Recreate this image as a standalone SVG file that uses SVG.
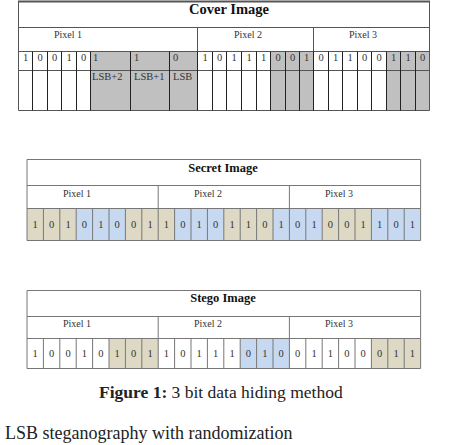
<svg xmlns="http://www.w3.org/2000/svg" width="474" height="445" viewBox="0 0 474 445">
<style>
text{font-family:"Liberation Serif","Times New Roman",serif;fill:#222}
.t{font-size:13px;font-weight:bold;text-anchor:middle;fill:#111}
.p{font-size:10px;text-anchor:middle;fill:#333}
.d{font-size:10.5px;text-anchor:middle;fill:#333}
.s{font-size:10.5px;fill:#333}
.ln{stroke:#555;stroke-width:1;fill:none}
.lv{stroke:#222;stroke-width:1;fill:none}
.lg{stroke:#777;stroke-width:1;fill:none}
.gray{fill:#c0c0c0}
.tan{fill:#ddd9c4}
.blue{fill:#c6d9f1}
.cap{font-size:17.5px}
</style>
<rect width="474" height="445" fill="#fff"/>

<g id="cover-image">
  <rect class="gray" x="90.5" y="51.5" width="107" height="59"/>
  <rect class="gray" x="270.5" y="51.5" width="43" height="59"/>
  <rect class="gray" x="386.5" y="51.5" width="43" height="59"/>
  <line x1="18" y1="1.5" x2="430" y2="1.5" stroke="#555" stroke-width="2"/>
  <path class="ln" d="M18.5 1.5V110.5M429.5 1.5V110.5M18.5 27.5H429.5M18.5 51.5H429.5M18.5 70.5H429.5M18.5 110.5H429.5"/>
  <path class="ln" d="M197.5 27.5V51.5M313.5 27.5V51.5"/>
  <path class="lv" d="M32.5 51.5V110.5M47.5 51.5V110.5M61.5 51.5V110.5M76.5 51.5V110.5M90.5 51.5V110.5M130.5 51.5V110.5M169.5 51.5V110.5M197.5 51.5V110.5M212.5 51.5V110.5M226.5 51.5V110.5M241.5 51.5V110.5M256.5 51.5V110.5M270.5 51.5V110.5M285.5 51.5V110.5M299.5 51.5V110.5M313.5 51.5V110.5M328.5 51.5V110.5M342.5 51.5V110.5M357.5 51.5V110.5M371.5 51.5V110.5M386.5 51.5V110.5M400.5 51.5V110.5M415.5 51.5V110.5"/>
  <text class="t" x="229" y="14" font-size="14.5" style="font-size:14.5px">Cover Image</text>
  <text class="p" x="68" y="38">Pixel 1</text>
  <text class="p" x="248" y="38">Pixel 2</text>
  <text class="p" x="363" y="38">Pixel 3</text>
  <g class="bits">
    <text class="d" x="25.5" y="61">1</text>
    <text class="d" x="40" y="61">0</text>
    <text class="d" x="54.5" y="61">0</text>
    <text class="d" x="69" y="61">1</text>
    <text class="d" x="83.5" y="61">0</text>
    <text class="s" x="93" y="61">1</text>
    <text class="s" x="134" y="61">1</text>
    <text class="s" x="173" y="61">0</text>
    <text class="d" x="205" y="61">1</text>
    <text class="d" x="219.5" y="61">0</text>
    <text class="d" x="234" y="61">1</text>
    <text class="d" x="249" y="61">1</text>
    <text class="d" x="263.5" y="61">1</text>
    <text class="d" x="278" y="61">0</text>
    <text class="d" x="292.5" y="61">0</text>
    <text class="d" x="306.5" y="61">1</text>
    <text class="d" x="321" y="61">0</text>
    <text class="d" x="335.5" y="61">1</text>
    <text class="d" x="350" y="61">1</text>
    <text class="d" x="364.5" y="61">0</text>
    <text class="d" x="379" y="61">0</text>
    <text class="d" x="393.5" y="61">1</text>
    <text class="d" x="408" y="61">1</text>
    <text class="d" x="422.5" y="61">0</text>
  </g>
  <text class="s" x="92" y="80">LSB+2</text>
  <text class="s" x="134" y="80">LSB+1</text>
  <text class="s" x="173" y="80">LSB</text>
</g>

<g id="secret-image">
  <rect class="tan" x="27" y="208.5" width="49.2" height="32"/>
  <rect class="blue" x="76.2" y="208.5" width="49.2" height="32"/>
  <rect class="tan" x="125.4" y="208.5" width="49.2" height="32"/>
  <rect class="blue" x="174.6" y="208.5" width="49.2" height="32"/>
  <rect class="tan" x="223.8" y="208.5" width="49.2" height="32"/>
  <rect class="blue" x="273" y="208.5" width="49.2" height="32"/>
  <rect class="tan" x="322.2" y="208.5" width="49.2" height="32"/>
  <rect class="blue" x="371.4" y="208.5" width="49.2" height="32"/>
  <path class="lg" d="M27 159.5H420.6M27 185.5H420.6M27 208.5H420.6M27 240.5H420.6M27 159.5V240.5M420.6 159.5V240.5M158.2 185.5V208.5M289.4 185.5V208.5"/>
  <path class="lg" d="M43.4 208.5V240.5M59.8 208.5V240.5M76.2 208.5V240.5M92.6 208.5V240.5M109 208.5V240.5M125.4 208.5V240.5M141.8 208.5V240.5M158.2 208.5V240.5M174.6 208.5V240.5M191 208.5V240.5M207.4 208.5V240.5M223.8 208.5V240.5M240.2 208.5V240.5M256.6 208.5V240.5M273 208.5V240.5M289.4 208.5V240.5M305.8 208.5V240.5M322.2 208.5V240.5M338.6 208.5V240.5M355 208.5V240.5M371.4 208.5V240.5M387.8 208.5V240.5M404.2 208.5V240.5"/>
  <text class="t" x="223" y="172" style="font-size:12.5px">Secret Image</text>
  <text class="p" x="77" y="197">Pixel 1</text>
  <text class="p" x="208" y="197">Pixel 2</text>
  <text class="p" x="339" y="197">Pixel 3</text>
  <g class="bits">
    <text class="d" x="35.2" y="228">1</text>
    <text class="d" x="51.6" y="228">0</text>
    <text class="d" x="68" y="228">1</text>
    <text class="d" x="84.4" y="228">0</text>
    <text class="d" x="100.8" y="228">1</text>
    <text class="d" x="117.2" y="228">0</text>
    <text class="d" x="133.6" y="228">0</text>
    <text class="d" x="150" y="228">1</text>
    <text class="d" x="166.4" y="228">1</text>
    <text class="d" x="182.8" y="228">0</text>
    <text class="d" x="199.2" y="228">1</text>
    <text class="d" x="215.6" y="228">0</text>
    <text class="d" x="232" y="228">1</text>
    <text class="d" x="248.4" y="228">1</text>
    <text class="d" x="264.8" y="228">0</text>
    <text class="d" x="281.2" y="228">1</text>
    <text class="d" x="297.6" y="228">0</text>
    <text class="d" x="314" y="228">1</text>
    <text class="d" x="330.4" y="228">0</text>
    <text class="d" x="346.8" y="228">0</text>
    <text class="d" x="363.2" y="228">1</text>
    <text class="d" x="379.6" y="228">1</text>
    <text class="d" x="396" y="228">0</text>
    <text class="d" x="412.4" y="228">1</text>
  </g>
</g>

<g id="stego-image">
  <rect class="tan" x="109" y="338.5" width="49.2" height="30"/>
  <rect class="blue" x="240.2" y="338.5" width="49.2" height="30"/>
  <rect class="tan" x="371.4" y="338.5" width="49.2" height="30"/>
  <path class="lg" d="M27 290.5H420.6M27 316.5H420.6M27 338.5H420.6M27 368.5H420.6M27 290.5V368.5M420.6 290.5V368.5M158.2 316.5V338.5M289.4 316.5V338.5"/>
  <path class="lg" d="M43.4 338.5V368.5M59.8 338.5V368.5M76.2 338.5V368.5M92.6 338.5V368.5M109 338.5V368.5M125.4 338.5V368.5M141.8 338.5V368.5M158.2 338.5V368.5M174.6 338.5V368.5M191 338.5V368.5M207.4 338.5V368.5M223.8 338.5V368.5M240.2 338.5V368.5M256.6 338.5V368.5M273 338.5V368.5M289.4 338.5V368.5M305.8 338.5V368.5M322.2 338.5V368.5M338.6 338.5V368.5M355 338.5V368.5M371.4 338.5V368.5M387.8 338.5V368.5M404.2 338.5V368.5"/>
  <text class="t" x="223" y="302" style="font-size:12.5px">Stego Image</text>
  <text class="p" x="77" y="327">Pixel 1</text>
  <text class="p" x="208" y="327">Pixel 2</text>
  <text class="p" x="339" y="327">Pixel 3</text>
  <g class="bits">
    <text class="d" x="35.2" y="357">1</text>
    <text class="d" x="51.6" y="357">0</text>
    <text class="d" x="68" y="357">0</text>
    <text class="d" x="84.4" y="357">1</text>
    <text class="d" x="100.8" y="357">0</text>
    <text class="d" x="117.2" y="357">1</text>
    <text class="d" x="133.6" y="357">0</text>
    <text class="d" x="150" y="357">1</text>
    <text class="d" x="166.4" y="357">1</text>
    <text class="d" x="182.8" y="357">0</text>
    <text class="d" x="199.2" y="357">1</text>
    <text class="d" x="215.6" y="357">1</text>
    <text class="d" x="232" y="357">1</text>
    <text class="d" x="248.4" y="357">0</text>
    <text class="d" x="264.8" y="357">1</text>
    <text class="d" x="281.2" y="357">0</text>
    <text class="d" x="297.6" y="357">0</text>
    <text class="d" x="314" y="357">1</text>
    <text class="d" x="330.4" y="357">1</text>
    <text class="d" x="346.8" y="357">0</text>
    <text class="d" x="363.2" y="357">0</text>
    <text class="d" x="379.6" y="357">0</text>
    <text class="d" x="396" y="357">1</text>
    <text class="d" x="412.4" y="357">1</text>
  </g>
</g>

<g id="caption">
  <text class="cap" x="99" y="398"><tspan font-weight="bold">Figure 1:</tspan> 3 bit data hiding method</text>
  <text x="5" y="439" style="font-size:18px">LSB steganography with randomization</text>
</g>
</svg>
